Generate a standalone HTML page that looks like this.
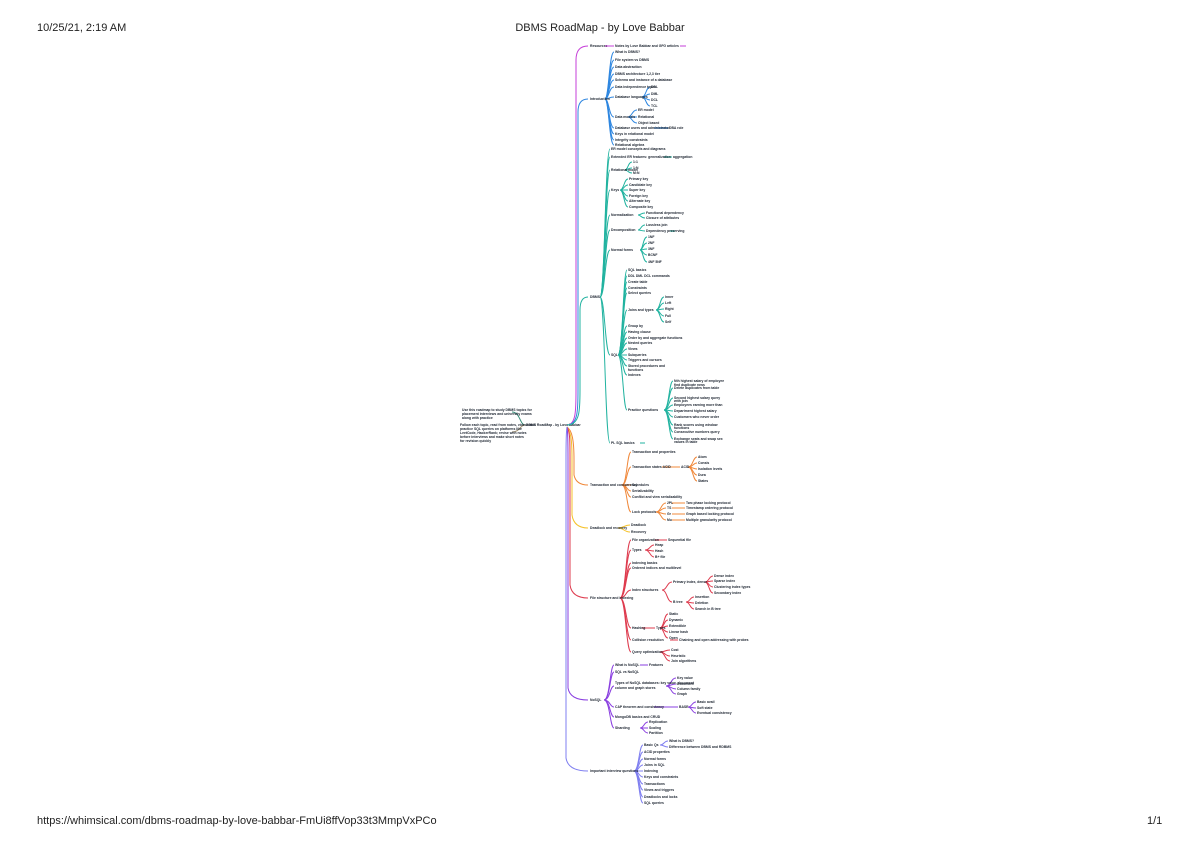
<!DOCTYPE html>
<html><head><meta charset="utf-8"><style>
html,body{margin:0;padding:0;background:#fff}
svg{display:block}
.t{font-family:"Liberation Sans",sans-serif;font-size:3.4px;fill:#1c2430;font-weight:bold;dominant-baseline:middle}
.h{font-family:"Liberation Sans",sans-serif;font-size:11px;fill:#222}
path{fill:none;stroke-width:1}
</style></head><body>
<svg width="1200" height="848" viewBox="0 0 1200 848" xmlns="http://www.w3.org/2000/svg">
<text class="h" x="37" y="31">10/25/21, 2:19 AM</text>
<text class="h" x="600" y="31" text-anchor="middle">DBMS RoadMap - by Love Babbar</text>
<text class="h" x="37" y="824">https://whimsical.com/dbms-roadmap-by-love-babbar-FmUi8ffVop33t3MmpVxPCo</text>
<text class="h" x="1147" y="824">1/1</text>

<!-- left notes -->
<path d="M512 412 C520 412 520 425 525 425" stroke="#3a8f7a"/>
<path d="M512 432 C520 432 520 425 525 425" stroke="#a09070"/>
<text class="t" x="462" y="410">Use this roadmap to study DBMS topics for</text>
<text class="t" x="462" y="414">placement interviews and university exams</text>
<text class="t" x="462" y="418">along with practice</text>
<text class="t" x="460" y="425">Follow each topic, read from notes, videos and</text>
<text class="t" x="460" y="429">practice SQL queries on platforms like</text>
<text class="t" x="460" y="433">LeetCode, HackerRank; revise with notes</text>
<text class="t" x="460" y="437">before interviews and make short notes</text>
<text class="t" x="460" y="441">for revision quickly</text>
<text class="t" x="526" y="425">DBMS RoadMap - by Love Babbar</text>

<!-- trunk -->
<path d="M567 425 C576 425 576 410 576 390 L576 60 Q576 46 588 46" stroke="#c63fd8"/>
<path d="M567 425 C578 425 578 410 578 390 L578 112 Q578 99 588 99" stroke="#2f87e0"/>
<path d="M567 425 C580 425 580 410 580 390 L580 310 Q580 297 588 297" stroke="#22b3a0"/>
<path d="M567 427 C572 430 574 440 574 460 L574 475 Q576 485 588 485" stroke="#f0883a"/>
<path d="M567 427 C571 432 572 440 572 460 L572 515 Q574 528 588 528" stroke="#f5c22a"/>
<path d="M567 427 C570 432 570 440 570 460 L570 585 Q572 598 588 598" stroke="#de3b4e"/>
<path d="M567 427 C568 432 568 440 568 460 L568 688 Q570 700 588 700" stroke="#8a3fe0"/>
<path d="M567 427 C566 432 566 440 566 460 L566 758 Q568 771 588 771" stroke="#7f7ff0"/>

<!-- 1 magenta -->
<text class="t" x="590" y="46">Resources</text>
<path d="M605 46 L614 46" stroke="#c63fd8"/>
<text class="t" x="615" y="46">Notes by Love Babbar and GFG articles</text>
<path d="M680 46 L686 46" stroke="#c63fd8" stroke-width="3"/>

<!-- 2 blue -->
<g stroke="#2f87e0">
<path d="M605 99 C609 99 609 52 614 52"/><path d="M605 99 C609 99 609 60 614 60"/><path d="M605 99 C609 99 609 67 614 67"/>
<path d="M605 99 C609 99 609 74 614 74"/><path d="M605 99 C609 99 609 80 614 80"/><path d="M605 99 C609 99 609 87 614 87"/>
<path d="M605 99 C609 99 609 97 614 97"/><path d="M605 99 C609 99 609 117 614 117"/><path d="M605 99 C609 99 609 128 614 128"/>
<path d="M605 99 C609 99 609 134 614 134"/><path d="M605 99 C609 99 609 140 614 140"/><path d="M605 99 C609 99 609 145 614 145"/>
<path d="M642 97 C646 97 646 87 650 87"/><path d="M642 97 C646 97 646 94 650 94"/><path d="M642 97 C646 97 646 100 650 100"/><path d="M642 97 C646 97 646 106 650 106"/>
<path d="M628 117 C632 117 632 110 637 110"/><path d="M628 117 C632 117 632 117 637 117"/><path d="M628 117 C632 117 632 123 637 123"/>
<path d="M654 128 L668 128"/>
</g>
<text class="t" x="590" y="99">Introduction</text>
<text class="t" x="615" y="52">What is DBMS?</text><text class="t" x="615" y="60">File system vs DBMS</text>
<text class="t" x="615" y="67">Data abstraction</text><text class="t" x="615" y="74">DBMS architecture 1,2,3 tier</text>
<text class="t" x="615" y="80">Schema and instance of a database</text><text class="t" x="615" y="87">Data independence types</text>
<text class="t" x="615" y="97">Database languages</text><text class="t" x="651" y="87">DDL</text><text class="t" x="651" y="94">DML</text><text class="t" x="651" y="100">DCL</text><text class="t" x="651" y="106">TCL</text>
<text class="t" x="615" y="117">Data models</text><text class="t" x="638" y="110">ER model</text><text class="t" x="638" y="117">Relational</text><text class="t" x="638" y="123">Object based</text>
<text class="t" x="615" y="128">Database users and administrator</text><text class="t" x="669" y="128">DBA role</text>
<text class="t" x="615" y="134">Keys in relational model</text><text class="t" x="615" y="140">Integrity constraints</text><text class="t" x="615" y="145">Relational algebra</text>

<!-- 3 teal -->
<g stroke="#22b3a0">
<path d="M600 297 C605 297 605 149 610 149"/><path d="M600 297 C605 297 605 157 610 157"/><path d="M600 297 C605 297 605 170 610 170"/>
<path d="M600 297 C605 297 605 190 610 190"/><path d="M600 297 C605 297 605 215 610 215"/><path d="M600 297 C605 297 605 230 610 230"/>
<path d="M600 297 C605 297 605 250 610 250"/><path d="M600 297 C605 297 605 355 610 355"/><path d="M600 297 C605 297 605 443 610 443"/>
<path d="M664 157 L672 157"/>
<path d="M625 170 C628 170 628 162 632 162"/><path d="M625 170 C628 170 628 168 632 168"/><path d="M625 170 C628 170 628 173 632 173"/>
<path d="M620 190 C624 190 624 179 628 179"/><path d="M620 190 C624 190 624 185 628 185"/><path d="M620 190 C624 190 624 190 628 190"/><path d="M620 190 C624 190 624 196 628 196"/><path d="M620 190 C624 190 624 201 628 201"/><path d="M620 190 C624 190 624 207 628 207"/>
<path d="M638 215 C641 215 641 213 645 213"/><path d="M638 215 C641 215 641 218 645 218"/>
<path d="M638 230 C641 230 641 225 645 225"/><path d="M638 230 C641 230 641 231 645 231"/><path d="M670 231 L675 231"/>
<path d="M640 250 C643 250 643 237 647 237"/><path d="M640 250 C643 250 643 243 647 243"/><path d="M640 250 C643 250 643 249 647 249"/><path d="M640 250 C643 250 643 255 647 255"/><path d="M640 250 C643 250 643 262 647 262"/>
<path d="M618 355 C623 355 623 270 627 270"/><path d="M618 355 C623 355 623 276 627 276"/><path d="M618 355 C623 355 623 282 627 282"/><path d="M618 355 C623 355 623 288 627 288"/><path d="M618 355 C623 355 623 293 627 293"/><path d="M618 355 C623 355 623 310 627 310"/>
<path d="M618 355 C623 355 623 326 627 326"/><path d="M618 355 C623 355 623 332 627 332"/><path d="M618 355 C623 355 623 338 627 338"/><path d="M618 355 C623 355 623 343 627 343"/><path d="M618 355 C623 355 623 349 627 349"/><path d="M618 355 C623 355 623 355 627 355"/>
<path d="M618 355 C623 355 623 360 627 360"/><path d="M618 355 C623 355 623 366 627 366"/><path d="M618 355 C623 355 623 375 627 375"/><path d="M618 355 C623 355 623 410 627 410"/>
<path d="M656 310 C660 310 660 297 664 297"/><path d="M656 310 C660 310 660 303 664 303"/><path d="M656 310 C660 310 660 309 664 309"/><path d="M656 310 C660 310 660 316 664 316"/><path d="M656 310 C660 310 660 322 664 322"/>
<path d="M664 410 C669 410 669 381 673 381"/><path d="M664 410 C669 410 669 388 673 388"/><path d="M664 410 C669 410 669 398 673 398"/><path d="M664 410 C669 410 669 405 673 405"/><path d="M664 410 C669 410 669 411 673 411"/><path d="M664 410 C669 410 669 417 673 417"/><path d="M664 410 C669 410 669 425 673 425"/><path d="M664 410 C669 410 669 432 673 432"/><path d="M664 410 C669 410 669 439 673 439"/>
<path d="M640 443 L645 443"/>
</g>
<text class="t" x="590" y="297">DBMS</text>
<text class="t" x="611" y="149">ER model concepts and diagrams</text>
<text class="t" x="611" y="157">Extended ER features: generalization</text><text class="t" x="673" y="157">aggregation</text>
<text class="t" x="611" y="170">Relational model</text><text class="t" x="633" y="162">1:1</text><text class="t" x="633" y="168">1:N</text><text class="t" x="633" y="173">M:N</text>
<text class="t" x="611" y="190">Keys</text><text class="t" x="629" y="179">Primary key</text><text class="t" x="629" y="185">Candidate key</text><text class="t" x="629" y="190">Super key</text><text class="t" x="629" y="196">Foreign key</text><text class="t" x="629" y="201">Alternate key</text><text class="t" x="629" y="207">Composite key</text>
<text class="t" x="611" y="215">Normalization</text><text class="t" x="646" y="213">Functional dependency</text><text class="t" x="646" y="218">Closure of attributes</text>
<text class="t" x="611" y="230">Decomposition</text><text class="t" x="646" y="225">Lossless join</text><text class="t" x="646" y="231">Dependency preserving</text>
<text class="t" x="611" y="250">Normal forms</text><text class="t" x="648" y="237">1NF</text><text class="t" x="648" y="243">2NF</text><text class="t" x="648" y="249">3NF</text><text class="t" x="648" y="255">BCNF</text><text class="t" x="648" y="262">4NF 5NF</text>
<text class="t" x="611" y="355">SQL</text>
<text class="t" x="628" y="270">SQL basics</text><text class="t" x="628" y="276">DDL DML DCL commands</text><text class="t" x="628" y="282">Create table</text><text class="t" x="628" y="288">Constraints</text><text class="t" x="628" y="293">Select queries</text>
<text class="t" x="628" y="310">Joins and types</text><text class="t" x="665" y="297">Inner</text><text class="t" x="665" y="303">Left</text><text class="t" x="665" y="309">Right</text><text class="t" x="665" y="316">Full</text><text class="t" x="665" y="322">Self</text>
<text class="t" x="628" y="326">Group by</text><text class="t" x="628" y="332">Having clause</text><text class="t" x="628" y="338">Order by and aggregate functions</text><text class="t" x="628" y="343">Nested queries</text><text class="t" x="628" y="349">Views</text><text class="t" x="628" y="355">Subqueries</text>
<text class="t" x="628" y="360">Triggers and cursors</text><text class="t" x="628" y="366">Stored procedures and</text><text class="t" x="628" y="370">functions</text><text class="t" x="628" y="375">Indexes</text>
<text class="t" x="628" y="410">Practice questions</text>
<text class="t" x="674" y="381">Nth highest salary of employee</text><text class="t" x="674" y="385">find duplicate rows</text><text class="t" x="674" y="388">Delete duplicates from table</text><text class="t" x="674" y="398">Second highest salary query</text><text class="t" x="674" y="401">with join</text><text class="t" x="674" y="405">Employees earning more than</text><text class="t" x="674" y="411">Department highest salary</text><text class="t" x="674" y="417">Customers who never order</text><text class="t" x="674" y="425">Rank scores using window</text><text class="t" x="674" y="428">functions</text><text class="t" x="674" y="432">Consecutive numbers query</text><text class="t" x="674" y="439">Exchange seats and swap sex</text><text class="t" x="674" y="442">values in table</text>
<text class="t" x="611" y="443">PL SQL basics</text>

<!-- 4 orange -->
<g stroke="#f0883a">
<path d="M622 485 C627 485 627 452 631 452"/><path d="M622 485 C627 485 627 467 631 467"/><path d="M622 485 C627 485 627 485 631 485"/><path d="M622 485 C627 485 627 491 631 491"/><path d="M622 485 C627 485 627 497 631 497"/><path d="M622 485 C627 485 627 512 631 512"/>
<path d="M662 467 L680 467"/>
<path d="M688 467 C693 467 693 457 697 457"/><path d="M688 467 C693 467 693 463 697 463"/><path d="M688 467 C693 467 693 469 697 469"/><path d="M688 467 C693 467 693 475 697 475"/><path d="M688 467 C693 467 693 481 697 481"/>
<path d="M656 512 C661 512 661 503 666 503"/><path d="M656 512 C661 512 661 508 666 508"/><path d="M656 512 C661 512 661 514 666 514"/><path d="M656 512 C661 512 661 520 666 520"/>
<path d="M672 503 L685 503"/><path d="M672 508 L685 508"/><path d="M672 514 L685 514"/><path d="M672 520 L685 520"/>
</g>
<text class="t" x="590" y="485">Transaction and concurrency</text>
<text class="t" x="632" y="452">Transaction and properties</text><text class="t" x="632" y="467">Transaction states ACID</text><text class="t" x="681" y="467">ACID</text>
<text class="t" x="698" y="457">Atom</text><text class="t" x="698" y="463">Consis</text><text class="t" x="698" y="469">Isolation levels</text><text class="t" x="698" y="475">Dura</text><text class="t" x="698" y="481">States</text>
<text class="t" x="632" y="485">Schedules</text><text class="t" x="632" y="491">Serializability</text><text class="t" x="632" y="497">Conflict and view serializability</text>
<text class="t" x="632" y="512">Lock protocols</text><text class="t" x="667" y="503">2PL</text><text class="t" x="667" y="508">TS</text><text class="t" x="667" y="514">Gr</text><text class="t" x="667" y="520">Mu</text>
<text class="t" x="686" y="503">Two phase locking protocol</text><text class="t" x="686" y="508">Timestamp ordering protocol</text><text class="t" x="686" y="514">Graph based locking protocol</text><text class="t" x="686" y="520">Multiple granularity protocol</text>

<!-- 5 yellow -->
<g stroke="#f5c22a"><path d="M618 528 C624 528 624 525 630 525"/><path d="M618 528 C624 528 624 532 630 532"/></g>
<text class="t" x="590" y="528">Deadlock and recovery</text>
<text class="t" x="631" y="525">Deadlock</text><text class="t" x="631" y="532">Recovery</text>

<!-- 6 red -->
<g stroke="#de3b4e">
<path d="M620 598 C626 598 626 540 631 540"/><path d="M620 598 C626 598 626 550 631 550"/><path d="M620 598 C626 598 626 563 631 563"/><path d="M620 598 C626 598 626 568 631 568"/><path d="M620 598 C626 598 626 590 631 590"/><path d="M620 598 C626 598 626 628 631 628"/><path d="M620 598 C626 598 626 640 631 640"/><path d="M620 598 C626 598 626 652 631 652"/>
<path d="M655 540 L667 540"/>
<path d="M645 550 C650 550 650 545 654 545"/><path d="M645 550 C650 550 650 551 654 551"/><path d="M645 550 C650 550 650 557 654 557"/>
<path d="M662 590 C667 590 667 582 672 582"/><path d="M662 590 C667 590 667 602 672 602"/>
<path d="M705 582 C709 582 709 576 713 576"/><path d="M705 582 C709 582 709 581 713 581"/><path d="M705 582 C709 582 709 587 713 587"/><path d="M705 582 C709 582 709 593 713 593"/>
<path d="M686 602 C690 602 690 597 694 597"/><path d="M686 602 C690 602 690 603 694 603"/><path d="M686 602 C690 602 690 609 694 609"/>
<path d="M642 628 L655 628"/>
<path d="M660 628 C664 628 664 614 668 614"/><path d="M660 628 C664 628 664 620 668 620"/><path d="M660 628 C664 628 664 626 668 626"/><path d="M660 628 C664 628 664 632 668 632"/><path d="M660 628 C664 628 664 638 668 638"/>
<path d="M670 640 L678 640"/>
<path d="M660 652 C665 652 665 650 670 650"/><path d="M660 652 C665 652 665 656 670 656"/><path d="M660 652 C665 652 665 661 670 661"/>
</g>
<text class="t" x="590" y="598">File structure and indexing</text>
<text class="t" x="632" y="540">File organization</text><text class="t" x="668" y="540">Sequential file</text>
<text class="t" x="632" y="550">Types</text><text class="t" x="655" y="545">Heap</text><text class="t" x="655" y="551">Hash</text><text class="t" x="655" y="557">B+ file</text>
<text class="t" x="632" y="563">Indexing basics</text><text class="t" x="632" y="568">Ordered indices and multilevel</text>
<text class="t" x="632" y="590">Index structures</text><text class="t" x="673" y="582">Primary index, dense</text><text class="t" x="714" y="576">Dense index</text><text class="t" x="714" y="581">Sparse index</text><text class="t" x="714" y="587">Clustering index types</text><text class="t" x="714" y="593">Secondary index</text>
<text class="t" x="673" y="602">B tree</text><text class="t" x="695" y="597">Insertion</text><text class="t" x="695" y="603">Deletion</text><text class="t" x="695" y="609">Search in B tree</text>
<text class="t" x="632" y="628">Hashing</text><text class="t" x="656" y="628">Types</text><text class="t" x="669" y="614">Static</text><text class="t" x="669" y="620">Dynamic</text><text class="t" x="669" y="626">Extendible</text><text class="t" x="669" y="632">Linear hash</text><text class="t" x="669" y="638">Open</text>
<text class="t" x="632" y="640">Collision resolution</text><text class="t" x="679" y="640">Chaining and open addressing with probes</text>
<text class="t" x="632" y="652">Query optimization</text><text class="t" x="671" y="650">Cost</text><text class="t" x="671" y="656">Heuristic</text><text class="t" x="671" y="661">Join algorithms</text>

<!-- 7 purple -->
<g stroke="#8a3fe0">
<path d="M604 700 C610 700 610 665 614 665"/><path d="M604 700 C610 700 610 672 614 672"/><path d="M604 700 C610 700 610 686 614 686"/><path d="M604 700 C610 700 610 707 614 707"/><path d="M604 700 C610 700 610 717 614 717"/><path d="M604 700 C610 700 610 728 614 728"/>
<path d="M640 665 L648 665"/>
<path d="M666 686 C671 686 671 678 676 678"/><path d="M666 686 C671 686 671 684 676 684"/><path d="M666 686 C671 686 671 689 676 689"/><path d="M666 686 C671 686 671 694 676 694"/>
<path d="M654 707 L678 707"/>
<path d="M688 707 C692 707 692 702 696 702"/><path d="M688 707 C692 707 692 708 696 708"/><path d="M688 707 C692 707 692 713 696 713"/>
<path d="M640 728 C644 728 644 722 648 722"/><path d="M640 728 C644 728 644 728 648 728"/><path d="M640 728 C644 728 644 733 648 733"/>
</g>
<text class="t" x="590" y="700">NoSQL</text>
<text class="t" x="615" y="665">What is NoSQL</text><text class="t" x="649" y="665">Features</text>
<text class="t" x="615" y="672">SQL vs NoSQL</text>
<text class="t" x="615" y="683">Types of NoSQL databases: key value, document</text><text class="t" x="615" y="688">column and graph stores</text>
<text class="t" x="677" y="678">Key value</text><text class="t" x="677" y="684">Document</text><text class="t" x="677" y="689">Column family</text><text class="t" x="677" y="694">Graph</text>
<text class="t" x="615" y="707">CAP theorem and consistency</text><text class="t" x="679" y="707">BASE</text><text class="t" x="697" y="702">Basic avail</text><text class="t" x="697" y="708">Soft state</text><text class="t" x="697" y="713">Eventual consistency</text>
<text class="t" x="615" y="717">MongoDB basics and CRUD</text>
<text class="t" x="615" y="728">Sharding</text><text class="t" x="649" y="722">Replication</text><text class="t" x="649" y="728">Scaling</text><text class="t" x="649" y="733">Partition</text>

<!-- 8 blue violet -->
<g stroke="#7f7ff0">
<path d="M634 771 C639 771 639 745 643 745"/><path d="M634 771 C639 771 639 752 643 752"/><path d="M634 771 C639 771 639 759 643 759"/><path d="M634 771 C639 771 639 765 643 765"/><path d="M634 771 C639 771 639 771 643 771"/><path d="M634 771 C639 771 639 777 643 777"/><path d="M634 771 C639 771 639 784 643 784"/><path d="M634 771 C639 771 639 790 643 790"/><path d="M634 771 C639 771 639 797 643 797"/><path d="M634 771 C639 771 639 803 643 803"/>
<path d="M660 745 C664 745 664 741 668 741"/><path d="M660 745 C664 745 664 747 668 747"/>
</g>
<text class="t" x="590" y="771">Important interview questions</text>
<text class="t" x="644" y="745">Basic Qs</text><text class="t" x="669" y="741">What is DBMS?</text><text class="t" x="669" y="747">Difference between DBMS and RDBMS</text>
<text class="t" x="644" y="752">ACID properties</text><text class="t" x="644" y="759">Normal forms</text><text class="t" x="644" y="765">Joins in SQL</text><text class="t" x="644" y="771">Indexing</text><text class="t" x="644" y="777">Keys and constraints</text><text class="t" x="644" y="784">Transactions</text><text class="t" x="644" y="790">Views and triggers</text><text class="t" x="644" y="797">Deadlocks and locks</text><text class="t" x="644" y="803">SQL queries</text>
</svg>
</body></html>
